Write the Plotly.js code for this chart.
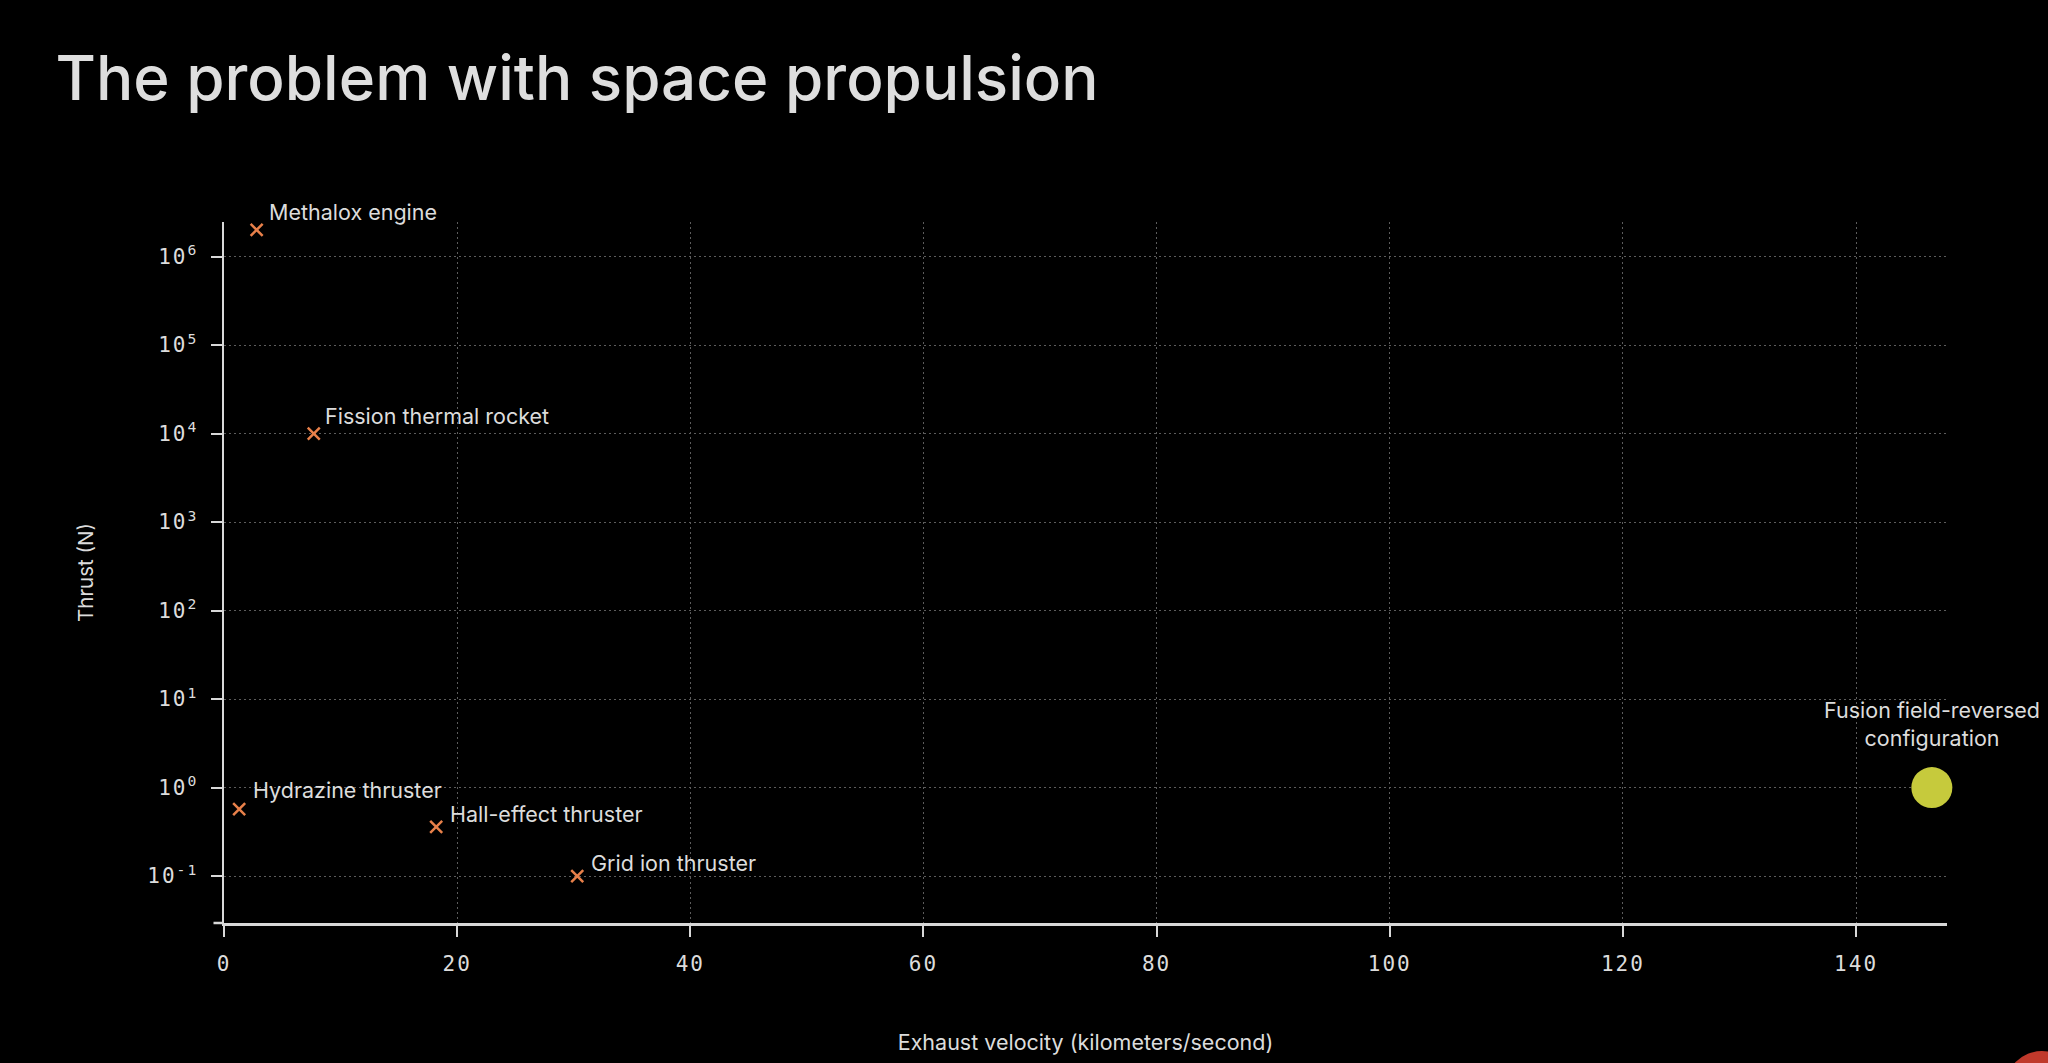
<!DOCTYPE html>
<html>
<head>
<meta charset="utf-8">
<script src="https://cdn.plot.ly/plotly-3.0.1.min.js"></script>
<style>
  html, body { margin: 0; padding: 0; background: #000; }
  #chart { width: 2048px; height: 1063px; }
  #chart .xtick text, #chart .ytick text { letter-spacing: 2px; }
</style>
</head>
<body>
<div id="chart"></div>
<script>
// ---- data ----
const engines = ["Methalox engine", "Fission thermal rocket", "Hydrazine thruster", "Hall-effect thruster", "Grid ion thruster"];
const engineVelocity = [2.8, 7.7, 1.3, 18.2, 30.3];      // km/s
const engineThrust = [2.0e6, 1.0e4, 0.57, 0.36, 0.1];    // N

const fusionName = ["Fusion field-reversed<br>configuration"];
const fusionVelocity = [146.5];
const fusionThrust = [1.0];

const yTickVals = [0.1, 1, 10, 100, 1000, 10000, 100000, 1000000];
const yTickText = ["10<sup>-1</sup>", "10<sup>0</sup>", "10<sup>1</sup>", "10<sup>2</sup>", "10<sup>3</sup>", "10<sup>4</sup>", "10<sup>5</sup>", "10<sup>6</sup>"];
const xTickVals = [0, 20, 40, 60, 80, 100, 120, 140];

// ---- styles ----
const axisColor = "#d8d8d8";
const textColor = "#dcdcdc";
const gridColor = "#5c5c5c";
const sansFont = "Inter, 'Noto Sans', sans-serif";
const monoFont = "'DejaVu Sans Mono', 'Liberation Mono', monospace";

const traces = [
  {
    type: "scatter",
    mode: "markers",
    x: engineVelocity,
    y: engineThrust,
    marker: { symbol: "x-thin-open", size: 12, color: "#e8804a", line: { color: "#e8804a", width: 2.5 } },
    hoverinfo: "skip",
    cliponaxis: false
  },
  {
    type: "scatter",
    mode: "markers",
    x: fusionVelocity,
    y: fusionThrust,
    marker: { symbol: "circle", size: 41, color: "#c6ca3c", line: { width: 0 } },
    hoverinfo: "skip",
    cliponaxis: false
  }
];

const labelShift = [[10, 18], [9, 18], [12, 19], [12, 13], [12, 13]];
const annotations = engines.map((name, i) => ({
  x: engineVelocity[i],
  y: Math.log10(engineThrust[i]),
  xref: "x", yref: "y",
  text: name,
  showarrow: false,
  xanchor: "left", yanchor: "middle",
  xshift: labelShift[i][0], yshift: labelShift[i][1],
  font: { family: sansFont, size: 21.5, color: textColor }
}));
annotations.push({
  x: fusionVelocity[0],
  y: Math.log10(fusionThrust[0]),
  xref: "x", yref: "y",
  text: fusionName[0],
  showarrow: false,
  xanchor: "center", yanchor: "middle",
  yshift: 64,
  font: { family: sansFont, size: 21.5, color: textColor }
});

const layout = {
  width: 2048,
  height: 1063,
  paper_bgcolor: "#000",
  plot_bgcolor: "#000",
  showlegend: false,
  hovermode: false,
  margin: { l: 224, r: 101, t: 222, b: 140, pad: 0 },
  title: {
    text: "The problem with space propulsion",
    x: 55.5 / 2048, xref: "container", xanchor: "left",
    y: 1 - 78 / 1063, yref: "container", yanchor: "middle",
    font: { family: sansFont, size: 62, color: "#dedede", weight: 500 }
  },
  xaxis: {
    range: [0, 147.8],
    tickvals: xTickVals,
    ticktext: xTickVals.map(String),
    showline: true, linecolor: axisColor, linewidth: 2.5,
    ticks: "outside", ticklen: 11, tickwidth: 2, tickcolor: axisColor,
    ticklabelstandoff: 9,
    showgrid: true, gridcolor: gridColor, gridwidth: 1, griddash: "2px,3px",
    zeroline: false,
    tickfont: { family: monoFont, size: 21, color: textColor },
    title: { text: "Exhaust velocity (kilometers/second)", standoff: 60,
             font: { family: sansFont, size: 21.5, color: textColor } }
  },
  yaxis: {
    type: "log",
    range: [-1.53, 6.39],
    tickvals: yTickVals,
    ticktext: yTickText,
    showline: true, linecolor: axisColor, linewidth: 2.5,
    ticks: "outside", ticklen: 11, tickwidth: 2, tickcolor: axisColor,
    ticklabelstandoff: 8,
    showgrid: true, gridcolor: gridColor, gridwidth: 1, griddash: "2px,3px",
    zeroline: false,
    tickfont: { family: monoFont, size: 21, color: textColor },
    title: { text: "Thrust (N)", standoff: 56,
             font: { family: sansFont, size: 20.5, color: textColor } }
  },
  annotations: annotations,
  shapes: [
    { type: "line", xref: "paper", yref: "paper", x0: -0.0061, x1: 0, y0: 0, y1: 0,
      line: { color: axisColor, width: 2.5 } },
    { type: "circle", xref: "paper", yref: "paper", x0: 1.0337, x1: 1.0766, y0: -0.288, y1: -0.1826,
      fillcolor: "#c0392b", line: { width: 0 } }
  ]
};

Plotly.newPlot("chart", traces, layout, { staticPlot: true, displayModeBar: false });
</script>
</body>
</html>
